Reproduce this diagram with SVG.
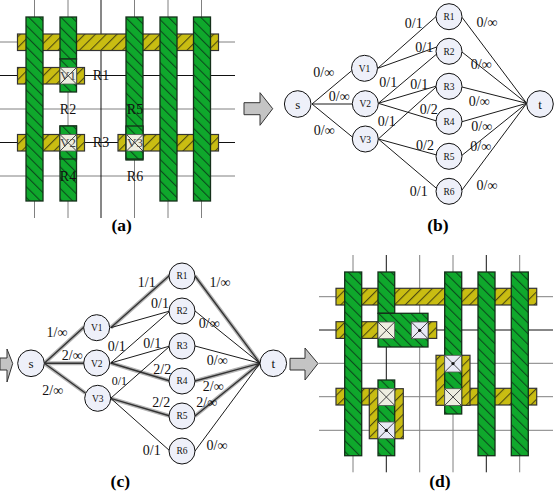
<svg xmlns="http://www.w3.org/2000/svg" width="555" height="491" viewBox="0 0 555 491">
<style>
text{font-family:"Liberation Serif","Times New Roman",serif;fill:#111}
.l{font-size:14px;text-anchor:middle}
.cap{font-size:17.5px;font-weight:bold;text-anchor:middle;fill:#000}
.gl{stroke:#808080;stroke-width:1;fill:none}
.bl{stroke:#111;stroke-width:1;fill:none}
.gr{fill:url(#hg);stroke:#14301a;stroke-width:1.3}
.ye{fill:url(#hy);stroke:#333;stroke-width:1.2}
.va{fill:#eeeee0;stroke:#555;stroke-width:.8}
.vb{fill:#e8eaf6;stroke:#555;stroke-width:.8}
.x{stroke:#333;stroke-width:.9;fill:none}
.e{stroke:#1a1a1a;stroke-width:1;fill:none}
.h{stroke:#b5b5b5;stroke-width:4;fill:none}
.e2{stroke:#333;stroke-width:1.4;fill:none}
.n{fill:#eef0f9;stroke:#111;stroke-width:1}
.nt{text-anchor:middle;font-size:9.5px}
.st{text-anchor:middle;font-size:13px}
.ar{fill:#c4c4c4;stroke:#333;stroke-width:1}
.iv{font-size:13px;text-anchor:middle;fill:#444}
</style>
<defs>
<pattern id="hg" width="7.6" height="7.6" patternUnits="userSpaceOnUse" patternTransform="rotate(-45)"><rect width="7.6" height="7.6" fill="#0fa82c"/><rect width="1.1" height="7.6" fill="#0b4a1c"/></pattern>
<pattern id="hy" width="7.6" height="7.6" patternUnits="userSpaceOnUse" patternTransform="rotate(45)"><rect width="7.6" height="7.6" fill="#c9bd12"/><rect width="1.1" height="7.6" fill="#4d4a10"/></pattern>
</defs>

<g id="panel-a">
<path class="gl" d="M34.5 0V218M68 0V218M134.5 0V218M168 0V218M201.5 0V218M0 42H235M0 176H235"/>
<path class="gl" stroke="#555" d="M0 109H235"/>
<path class="bl" d="M101 0V218M0 75.5H235M0 142.5H235"/>
<rect class="ye" x="17.5" y="34" width="201" height="16.5"/>
<rect class="ye" x="17.5" y="67.5" width="67" height="16.5"/>
<rect class="ye" x="17.5" y="134.5" width="67" height="16.5"/>
<rect class="ye" x="118" y="134.5" width="100.5" height="16.5"/>
<rect class="gr" x="26" y="17" width="17" height="184"/>
<rect class="gr" x="60" y="17" width="16.5" height="42"/>
<rect class="gr" x="60" y="126" width="16.5" height="75"/>
<rect class="gr" x="126" y="17" width="17" height="143"/>
<rect class="gr" x="160" y="17" width="17" height="184"/>
<rect class="gr" x="193.5" y="17" width="17" height="184"/>
<rect class="gr" x="60" y="59" width="16.5" height="33"/>
<rect class="gr" x="60" y="126" width="16.5" height="33"/>
<rect class="gr" x="126" y="126" width="17" height="33"/>
<rect class="va" x="60" y="67.5" width="16.5" height="16.5"/><path class="x" d="M60 67.5L76.5 84M76.5 67.5L60 84"/>
<rect class="va" x="60" y="134.5" width="16.5" height="16.5"/><path class="x" d="M60 134.5L76.5 151M76.5 134.5L60 151"/>
<rect class="va" x="126.5" y="134.5" width="16.5" height="16.5"/><path class="x" d="M126.5 134.5L143 151M143 134.5L126.5 151"/>
<text class="iv" x="68" y="80">V1</text><text class="iv" x="68" y="147">V2</text><text class="iv" x="135" y="147">V3</text>
<text class="l" x="101" y="80">R1</text><text class="l" x="68" y="113.7">R2</text><text class="l" x="135" y="113.7">R5</text>
<text class="l" x="101" y="147">R3</text><text class="l" x="68" y="180.5">R4</text><text class="l" x="135" y="180.5">R6</text>
<text class="cap" x="121.7" y="231">(a)</text>
</g>

<polygon class="ar" points="244,102.7 260,102.7 260,92.7 272.7,108.7 260,125.3 260,114.7 244,114.7"/>

<g id="connectors-b">
<path class="e" d="M312 104L351.7 70.7M312 104H352.7M312 104L352.7 137.3"/>
<path class="e" d="M377.7 68.3L436.7 16M377.7 68.3L436.7 47"/>
<path class="e" d="M378.3 103.3L436.7 54M378.3 103.3L436.7 86M378.3 103.3L436.7 121"/>
<path class="e" d="M378.3 139L436.7 86.5M378.3 139L436.7 155M378.3 139L436.7 188.5"/>
<path class="e" d="M462 17.3L526.7 103.3M462 52L526.7 103.3M462 87L526.7 103.3M462 121.7L526.7 103.3M462 155.3L526.7 103.3M462 190L526.7 103.3"/>
</g>
<g id="b-s"><circle class="n" cx="297.7" cy="104" r="13.3"/><text class="st" x="297.7" y="108.5">s</text></g>
<g id="b-t"><circle class="n" cx="540" cy="104" r="13.3"/><text class="st" x="540" y="108.5">t</text></g>
<g id="b-V1"><circle class="n" cx="364.5" cy="68.3" r="13"/><text class="nt" x="364.5" y="71.8">V1</text></g>
<g id="b-V2"><circle class="n" cx="365.3" cy="103.7" r="13"/><text class="nt" x="365.3" y="107.2">V2</text></g>
<g id="b-V3"><circle class="n" cx="365.3" cy="139" r="13"/><text class="nt" x="365.3" y="142.5">V3</text></g>
<g id="b-R1"><circle class="n" cx="449" cy="16.7" r="13"/><text class="nt" x="449" y="20">R1</text></g>
<g id="b-R2"><circle class="n" cx="449" cy="51.3" r="13"/><text class="nt" x="449" y="54.7">R2</text></g>
<g id="b-R3"><circle class="n" cx="449" cy="86.3" r="13"/><text class="nt" x="449" y="89.7">R3</text></g>
<g id="b-R4"><circle class="n" cx="449" cy="121.3" r="13"/><text class="nt" x="449" y="124.7">R4</text></g>
<g id="b-R5"><circle class="n" cx="449" cy="156.3" r="13"/><text class="nt" x="449" y="159.7">R5</text></g>
<g id="b-R6"><circle class="n" cx="449" cy="191.3" r="13"/><text class="nt" x="449" y="194.7">R6</text></g>
<g id="labels-b">
<text class="l" x="413.7" y="28.3">0/1</text><text class="l" x="487" y="27.3">0/∞</text><text class="l" x="424.3" y="51.7">0/1</text><text class="l" x="481.3" y="69">0/∞</text>
<text class="l" x="323.7" y="76.7">0/∞</text><text class="l" x="388.3" y="86.7">0/1</text><text class="l" x="419.3" y="88.7">0/1</text><text class="l" x="339.3" y="101.3">0/∞</text>
<text class="l" x="479.3" y="106.3">0/∞</text><text class="l" x="428.7" y="114">0/2</text><text class="l" x="386.7" y="125.7">0/1</text><text class="l" x="481.7" y="130.7">0/∞</text>
<text class="l" x="324.3" y="135.3">0/∞</text><text class="l" x="480.7" y="150.7">0/∞</text><text class="l" x="425" y="149.7">0/2</text><text class="l" x="418.7" y="196">0/1</text><text class="l" x="487" y="190">0/∞</text>
</g>
<text class="cap" x="438" y="230.5">(b)</text>

<polygon class="ar" points="0,358 7,358 7,349 12.7,363.5 7,382 7,370 0,370"/>
<polygon class="ar" points="290,358.3 305,358.3 305,348 318,363.5 305,380 305,370 290,370"/>

<g id="connectors-c">
<path class="h" d="M44.3 363.3L84 327M44.3 363.3H84.3M44.3 363.3L85.3 393M110.7 327.7L170 275M110.7 363L170 381M110.7 398.3L170 416M195 276L260 363.3M195 381L260 363.3M195 416L260 363.3"/>
<path class="e2" d="M44.3 363.3L84 327M44.3 363.3H84.3M44.3 363.3L85.3 393M110.7 327.7L170 275M110.7 363L170 381M110.7 398.3L170 416M195 276L260 363.3M195 381L260 363.3M195 416L260 363.3"/>
<path class="e" d="M110.7 327.7L170 311M110.7 363L170 311M110.7 363L170 346M110.7 398.3L170 346M110.7 398.3L170 451M195 311L260 363.3M195 346L260 363.3M195 451L260 363.3"/>
</g>
<g id="c-s"><circle class="n" cx="31" cy="363.3" r="13.3"/><text class="st" x="31" y="367.8">s</text></g>
<g id="c-t"><circle class="n" cx="273.3" cy="363.3" r="13.3"/><text class="st" x="273.3" y="367.8">t</text></g>
<g id="c-V1"><circle class="n" cx="96.7" cy="327.7" r="13"/><text class="nt" x="96.7" y="331.2">V1</text></g>
<g id="c-V2"><circle class="n" cx="96.7" cy="363" r="13"/><text class="nt" x="96.7" y="366.5">V2</text></g>
<g id="c-V3"><circle class="n" cx="97.7" cy="398.3" r="13"/><text class="nt" x="97.7" y="401.8">V3</text></g>
<g id="c-R1"><circle class="n" cx="182" cy="276" r="13"/><text class="nt" x="182" y="279.4">R1</text></g>
<g id="c-R2"><circle class="n" cx="182" cy="311" r="13"/><text class="nt" x="182" y="314.4">R2</text></g>
<g id="c-R3"><circle class="n" cx="182" cy="346" r="13"/><text class="nt" x="182" y="349.4">R3</text></g>
<g id="c-R4"><circle class="n" cx="182" cy="381" r="13"/><text class="nt" x="182" y="384.4">R4</text></g>
<g id="c-R5"><circle class="n" cx="182" cy="416" r="13"/><text class="nt" x="182" y="419.4">R5</text></g>
<g id="c-R6"><circle class="n" cx="182" cy="451" r="13"/><text class="nt" x="182" y="454.4">R6</text></g>
<g id="labels-c">
<text class="l" x="146.7" y="287.3">1/1</text><text class="l" x="220" y="286.7">1/∞</text><text class="l" x="160" y="308.3">0/1</text><text class="l" x="209.3" y="328.3">0/∞</text>
<text class="l" x="57" y="336.7">1/∞</text><text class="l" x="116.7" y="350.7">0/1</text><text class="l" x="152.3" y="348.3">0/1</text><text class="l" x="72.3" y="360">2/∞</text>
<text class="l" x="217.3" y="364.7">0/∞</text><text class="l" x="162.3" y="374">2/2</text><text class="l" x="119.3" y="385" style="font-size:12px">0/1</text><text class="l" x="213.3" y="391">2/∞</text>
<text class="l" x="52.7" y="395.3">2/∞</text><text class="l" x="161.3" y="407.3">2/2</text><text class="l" x="206.7" y="407.3">2/∞</text><text class="l" x="151.7" y="455">0/1</text><text class="l" x="217" y="450">0/∞</text>
</g>
<text class="cap" x="120.3" y="487">(c)</text>

<g id="panel-d">
<path class="gl" d="M353 255V472.3M419.7 255V472.3M453 255V472.3M519.7 255V472.3M319 296.7H553M319 363.3H553M319 396.7H553M319 430.3H553"/>
<path class="bl" d="M386.3 255V472.3M486.3 255V472.3M319 330H553"/>
<rect class="ye" x="336" y="288.3" width="200.7" height="16.7"/>
<rect class="ye" x="336" y="321.7" width="100.7" height="16.7"/>
<rect class="ye" x="336" y="388.3" width="40" height="16.7"/>
<rect class="ye" x="465" y="388.3" width="71.7" height="16.7"/>
<rect class="ye" x="369.3" y="388.7" width="34" height="50"/>
<rect class="ye" x="436" y="355.3" width="34" height="50"/>
<rect class="gr" x="344.7" y="272" width="17" height="183.7"/>
<rect class="gr" x="378" y="272" width="16.7" height="41.3"/>
<rect class="gr" x="378" y="380" width="16.7" height="75.7"/>
<rect class="gr" x="444.7" y="272" width="17" height="142"/>
<rect class="gr" x="478" y="272" width="17" height="183.7"/>
<rect class="gr" x="511.3" y="272" width="17" height="183.7"/>
<rect class="gr" x="378" y="313.3" width="50" height="33.7"/>
<rect class="va" x="378" y="322" width="16.7" height="16.7"/><path class="x" d="M378 322L394.7 338.7M394.7 322L378 338.7"/>
<rect class="vb" x="411.3" y="322" width="16.7" height="16.7"/><path class="x" d="M411.3 322L428 338.7M428 322L411.3 338.7"/><circle cx="419.7" cy="330.3" r="1.6" fill="#111"/>
<rect class="vb" x="444.7" y="355.3" width="16.7" height="16.7"/><path class="x" d="M444.7 355.3L461.4 372M461.4 355.3L444.7 372"/><circle cx="453" cy="363.6" r="1.6" fill="#111"/>
<rect class="va" x="444.7" y="388.7" width="16.7" height="16.7"/><path class="x" d="M444.7 388.7L461.4 405.4M461.4 388.7L444.7 405.4"/>
<rect class="va" x="378" y="388.7" width="16.7" height="16.7"/><path class="x" d="M378 388.7L394.7 405.4M394.7 388.7L378 405.4"/>
<rect class="vb" x="378" y="422" width="16.7" height="16.7"/><path class="x" d="M378 422L394.7 438.7M394.7 422L378 438.7"/><circle cx="386.3" cy="430.3" r="1.6" fill="#111"/>
<text class="cap" x="440" y="487">(d)</text>
</g>
</svg>
